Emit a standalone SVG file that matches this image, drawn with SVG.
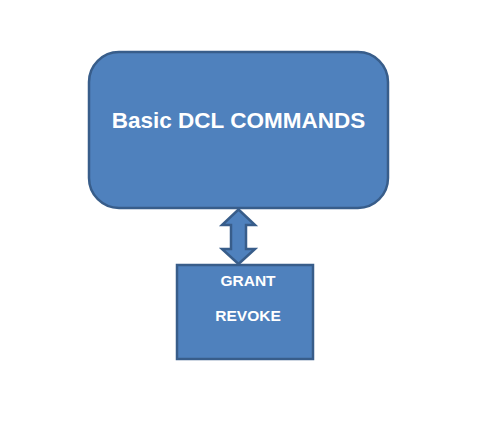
<svg xmlns="http://www.w3.org/2000/svg" width="495" height="421" viewBox="0 0 495 421">
<style>
.shape{fill:#4F81BD;stroke:#385D8A;stroke-width:2.5}
.lbl{font-family:"Liberation Sans",Arial,sans-serif;font-weight:bold;fill:#FFFFFF;text-anchor:middle}
</style>
<rect width="495" height="421" fill="#FFFFFF"/>
<g id="connectors">
<path class="shape" stroke-width="2" d="M238.5,209.5 L255,225 L246,225 L246,249 L255,249 L238.5,264 L222,249 L231,249 L231,225 L222,225 Z"/>
</g>
<g id="node-basic">
<rect class="shape" x="89" y="52" width="299" height="156" rx="30" ry="30"/>
<text class="lbl" x="238.5" y="128" font-size="22.5">Basic DCL COMMANDS</text>
</g>
<g id="node-commands">
<rect class="shape" x="177" y="265" width="136" height="94"/>
<text class="lbl" x="248" y="286" font-size="15.5">GRANT</text>
<text class="lbl" x="248" y="321" font-size="15.5">REVOKE</text>
</g>
</svg>
